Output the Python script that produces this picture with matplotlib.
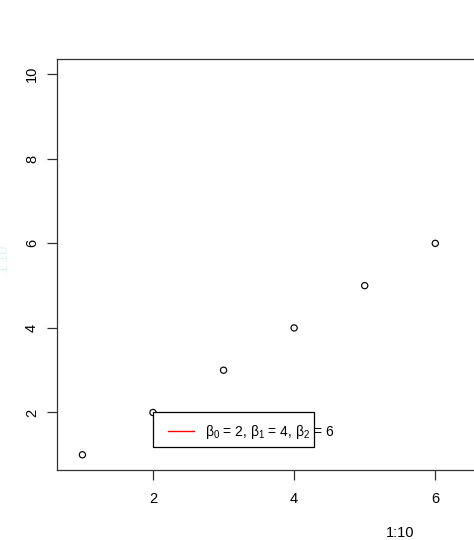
import matplotlib
matplotlib.use("Agg")
import matplotlib.pyplot as plt
from matplotlib.patches import Rectangle

plt.rcParams['font.family'] = ['Liberation Sans', 'DejaVu Sans']
plt.rcParams['mathtext.default'] = 'regular'

x_vals = list(range(1, 11))
y_vals = list(range(1, 11))
x_ticks = [2, 4, 6, 8, 10]
y_ticks = [2, 4, 6, 8, 10]
legend_label = r"β$_0$ = 2, β$_1$ = 4, β$_2$ = 6"

fig = plt.figure(figsize=(4.74, 5.40), dpi=100)
W, H = 474, 540
left, right, top, bottom = 57, 743, 59, 470
ax = fig.add_axes([left / W, (H - bottom) / H, (right - left) / W, (bottom - top) / H])

ax.scatter(x_vals, y_vals, s=20, facecolors='none', edgecolors='black', linewidths=0.85, zorder=3)
ax.set_xlim(0.64, 10.36)
ax.set_ylim(0.64, 10.36)
ax.set_xticks(x_ticks)
ax.set_yticks(y_ticks)
ax.tick_params(axis='both', length=7, width=0.9, labelsize=10.5, color='#333333')
ax.tick_params(axis='x', pad=9)
ax.tick_params(axis='y', pad=6)
for lab in ax.get_yticklabels():
    lab.set_rotation(90)
    lab.set_va('center')
for sp in ax.spines.values():
    sp.set_linewidth(0.9)
    sp.set_color('#333333')

ax.set_xlabel("1:10", fontsize=10.5, labelpad=14)
fig.text(3 / W, 1 - 258 / H, "1:10", rotation=90, ha='center', va='center',
         fontsize=10.5, color='#dff3f6')

# legend box anchored at data (2, 2), like R's legend(2, 2, ...)
lx, ly = 2.0, 2.0
bw, bh = 2.276, 0.825
ax.add_patch(Rectangle((lx, ly - bh), bw, bh, facecolor='white', edgecolor='black',
                       linewidth=0.9, zorder=4))
ax.plot([lx + 0.216, lx + 0.583], [ly - 0.43, ly - 0.43], color='#ff0000', linewidth=1.0, zorder=5)
ax.text(lx + 0.74, ly - 0.45, legend_label, fontsize=10, va='center', ha='left', zorder=6)

fig.savefig("out.png", dpi=100)
